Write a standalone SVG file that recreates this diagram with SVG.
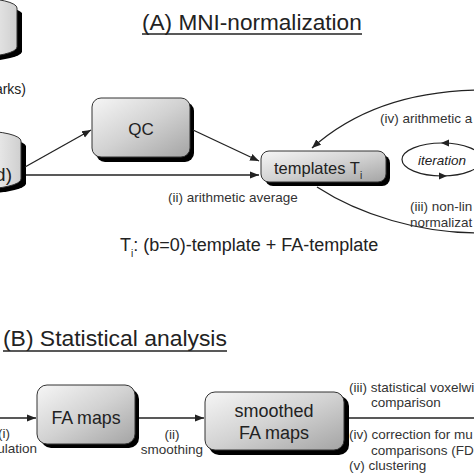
<svg xmlns="http://www.w3.org/2000/svg" width="474" height="474" viewBox="0 0 474 474">
<defs>
<linearGradient id="boxg" x1="0" y1="0" x2="1" y2="1">
<stop offset="0" stop-color="#f6f6f6"/>
<stop offset="0.5" stop-color="#d2d2d2"/>
<stop offset="1" stop-color="#a4a4a4"/>
</linearGradient>
<linearGradient id="cylg" x1="0" y1="0" x2="1" y2="0">
<stop offset="0" stop-color="#ffffff"/>
<stop offset="0.6" stop-color="#f2f2f2"/>
<stop offset="1" stop-color="#cfcfcf"/>
</linearGradient>
<marker id="ah" viewBox="0 0 10 10" refX="10" refY="5" markerWidth="9" markerHeight="9" markerUnits="userSpaceOnUse" orient="auto">
<path d="M0,1 L10,5 L0,9 Z" fill="#222"/>
</marker>
</defs>
<style>
.box{fill:url(#boxg);stroke:#333;stroke-width:1}
.sh{fill:#000}
.cyl{fill:url(#cylg);stroke:#333;stroke-width:1}
.ln{fill:none;stroke:#222;stroke-width:1.3}
.t{font-family:"Liberation Sans",Arial,sans-serif;fill:#222}
.lbl{font-family:"Liberation Sans",Arial,sans-serif;fill:#333;font-size:13.5px}
</style>
<rect width="474" height="474" fill="#fff"/>

<g id="title-a">
<text class="t" x="142" y="30" font-size="22.6">(A) MNI-normalization</text>
<line x1="142" y1="34" x2="362" y2="34" stroke="#222" stroke-width="1.3"/>
</g>

<g id="cylinder-top">
<path class="sh" d="M-15,5 A42,10 0 0 1 22,13 L22,52 A42,10 0 0 1 -15,61 Z" transform="translate(0,0)"/>
<path class="cyl" d="M-67,8 A42,10 0 0 1 17,8 L17,47 A42,10 0 0 1 -67,47 Z"/>
<text class="t" x="26" y="94" font-size="14" text-anchor="end">arks)</text>
</g>

<g id="cylinder-mid">
<path class="sh" d="M-10,137 A41,10 0 0 1 26,146 L26,184 A41,10 0 0 1 -10,193 Z"/>
<path class="cyl" d="M-61,141 A41,10 0 0 1 21,141 L21,179 A41,10 0 0 1 -61,179 Z"/>
<text class="t" x="12" y="181" font-size="19" text-anchor="end">d)</text>
</g>

<g id="qc">
<rect class="sh" x="96" y="102" width="98" height="60" rx="9"/>
<rect class="box" x="92" y="98" width="98" height="59" rx="9"/>
<text class="t" x="141" y="135" font-size="17" text-anchor="middle">QC</text>
</g>

<g id="templates">
<rect class="sh" x="265" y="155" width="125" height="31" rx="8"/>
<rect class="box" x="261" y="151" width="125" height="31" rx="8"/>
<text class="t" x="274" y="174" font-size="16.5">templates T<tspan font-size="10" dy="5">i</tspan></text>
</g>

<g id="iteration">
<ellipse cx="442" cy="159.5" rx="40" ry="16.5" fill="none" stroke="#222" stroke-width="1.2"/>
<path d="M441,143 L449,139.5 L449,146.5 Z" fill="#222"/>
<path d="M447,176 L439,172.5 L439,179.5 Z" fill="#222"/>
<text class="t" x="442" y="165" font-size="13.5" font-style="italic" text-anchor="middle">iteration</text>
</g>

<g id="connectors">
<line class="ln" x1="25" y1="167" x2="91" y2="130" marker-end="url(#ah)"/>
<line class="ln" x1="26" y1="175" x2="259" y2="175" marker-end="url(#ah)"/>
<line class="ln" x1="193" y1="130" x2="259" y2="161" marker-end="url(#ah)"/>
<path class="ln" d="M478,90 C420,91 360,105 312,148" marker-end="url(#ah)"/>
<path class="ln" d="M317,187 C360,215 420,233 478,233"/>
<line class="ln" x1="0" y1="418" x2="36" y2="418" marker-end="url(#ah)"/>
<line class="ln" x1="139" y1="418" x2="204" y2="418" marker-end="url(#ah)"/>
<line class="ln" x1="349" y1="418" x2="478" y2="418"/>
</g>

<g id="labels-a">
<text class="lbl" x="168" y="202">(ii) arithmetic average</text>
<text class="lbl" x="380" y="123" font-size="14">(iv) arithmetic a</text>
<text class="lbl" x="410" y="211" font-size="14">(iii) non-lin</text>
<text class="lbl" x="410" y="227" font-size="14">normalizat</text>
<text class="t" x="120" y="251" font-size="18">T<tspan font-size="10" dy="6">i</tspan><tspan dy="-6">: (b=0)-template + FA-template</tspan></text>
</g>

<g id="title-b">
<text class="t" x="3" y="346" font-size="22.9">(B) Statistical analysis</text>
<line x1="3" y1="351" x2="227" y2="351" stroke="#222" stroke-width="1.3"/>
</g>

<g id="fa-maps">
<rect class="sh" x="41" y="389" width="98" height="59" rx="10"/>
<rect class="box" x="37" y="385" width="98" height="59" rx="10"/>
<text class="t" x="86" y="424" font-size="17.8" text-anchor="middle">FA maps</text>
</g>

<g id="smoothed">
<rect class="sh" x="209" y="396" width="140" height="59" rx="10"/>
<rect class="box" x="205" y="392" width="139" height="58" rx="10"/>
<text class="t" x="274" y="417" font-size="18" text-anchor="middle">smoothed</text>
<text class="t" x="274" y="439" font-size="18" text-anchor="middle">FA maps</text>
</g>

<g id="labels-b">
<text class="lbl" x="10" y="438" text-anchor="end">(i)</text>
<text class="lbl" x="37" y="453" text-anchor="end">ulation</text>
<text class="lbl" x="172" y="439" text-anchor="middle">(ii)</text>
<text class="lbl" x="172" y="454" text-anchor="middle">smoothing</text>
<text class="lbl" x="349" y="392">(iii) statistical voxelwi</text>
<text class="lbl" x="371" y="407">comparison</text>
<text class="lbl" x="349" y="439">(iv) correction for mu</text>
<text class="lbl" x="371" y="455">comparisons (FD</text>
<text class="lbl" x="349" y="470">(v) clustering</text>
</g>
</svg>
